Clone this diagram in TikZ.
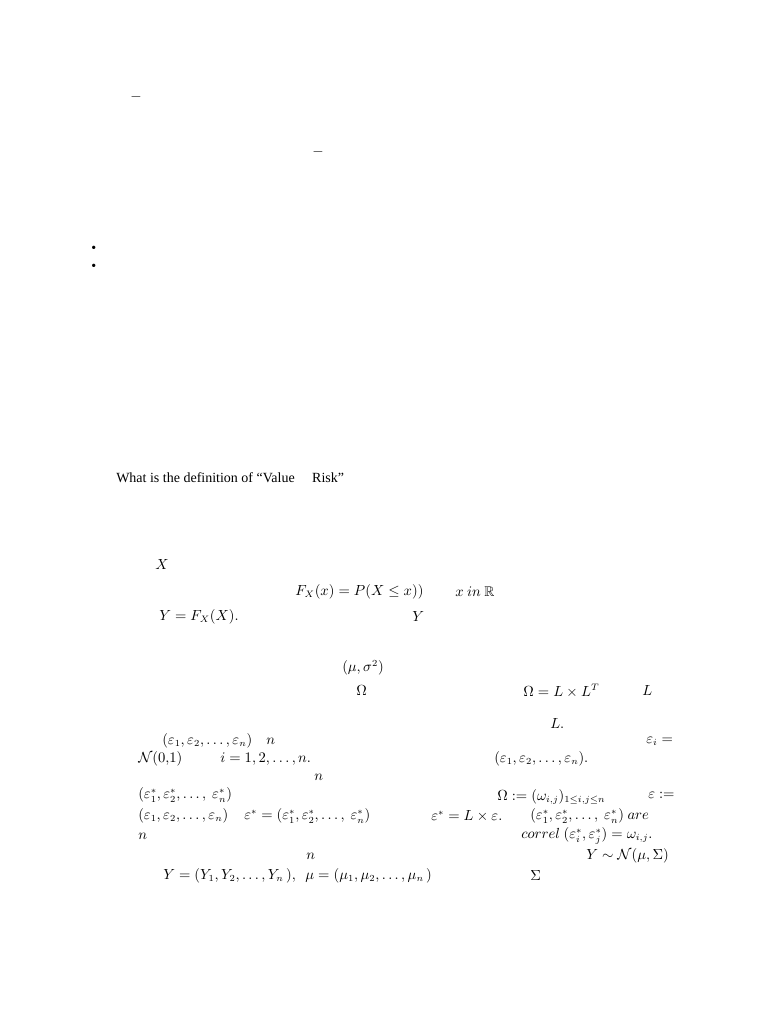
\documentclass[tikz,border=0pt]{standalone}
\usepackage{amsmath,amssymb}
\usepackage{fontspec}
\setmainfont{Liberation Serif}
\newcommand{\myassign}{\mathrel{:=}}
\begin{document}
\begin{tikzpicture}[x=0.75pt,y=-0.75pt,every node/.style={anchor=west,inner sep=0pt,font=\fontsize{10.5}{12}\selectfont}]
\useasboundingbox[fill=white] (0,0) rectangle (768,1024);
\node (d1) at (130,97) {$-$};
\node (d2) at (312,152) {$-$};
\node (b1) at (91,249) {\textbullet};
\node (b2) at (91,267) {\textbullet};
\node (q) at (116,478) {What is the definition of “Value \quad Risk”};
\node (t1) at (155,565) {$X$};
\node (t2) at (295,592) {$F_X(x)=P(X\le x))$};
\node (t3) at (455,592) {$x\ in\ \mathbb{R}$};
\node (t4) at (159,617) {$Y=F_X(X).$};
\node (t5) at (412,617) {$Y$};
\node (t6) at (342,668) {$(\mu,\sigma^2)$};
\node (t7) at (356,691) {$\Omega$};
\node (t8) at (523,691) {$\Omega=L\times L^T$};
\node (t9) at (642,691) {$L$};
\node (t10) at (550,724) {$L.$};
\node (r1) at (162,741) {$(\varepsilon_1,\varepsilon_2,\dots,\varepsilon_n)$};
\node (r2) at (266,741) {$n$};
\node (r3) at (646,741) {$\varepsilon_i=$};
\node (r4) at (138,759) {$\mathcal{N}(0{,}1)$};
\node (r5) at (220,759) {$i=1,2,\dots,n.$};
\node (r6) at (494,759) {$(\varepsilon_1,\varepsilon_2,\dots,\varepsilon_n).$};
\node (r7) at (314,777) {$n$};
\node (r8) at (138,795) {$(\varepsilon_1^*,\varepsilon_2^*,\dots,\ \varepsilon_n^*)$};
\node (r9) at (497,797) {$\Omega\myassign(\omega_{i,j})_{1\le i,j\le n}$};
\node (r10) at (648,795) {$\varepsilon\myassign$};
\node (r11) at (138,816) {$(\varepsilon_1,\varepsilon_2,\dots,\varepsilon_n)$};
\node (r12) at (244,816) {$\varepsilon^*=(\varepsilon_1^*,\varepsilon_2^*,\dots,\ \varepsilon_n^*)$};
\node (r13) at (431,816) {$\varepsilon^*=L\times\varepsilon.$};
\node (r14) at (530,816) {$(\varepsilon_1^*,\varepsilon_2^*,\dots,\ \varepsilon_n^*)\ are$};
\node (r15) at (138,836) {$n$};
\node (r16) at (521,836) {$correl\ (\varepsilon_i^*,\varepsilon_j^*)=\omega_{i,j}.$};
\node (r17) at (306,856) {$n$};
\node (r18) at (586,856) {$Y\sim\mathcal{N}(\mu,\Sigma)$};
\node (r19) at (163,876) {$Y=(Y_1,Y_2,\dots,Y_n\,),\ \ \mu=(\mu_1,\mu_2,\dots,\mu_n\,)$};
\node (r20) at (530,876) {$\Sigma$};
\end{tikzpicture}
\end{document}
